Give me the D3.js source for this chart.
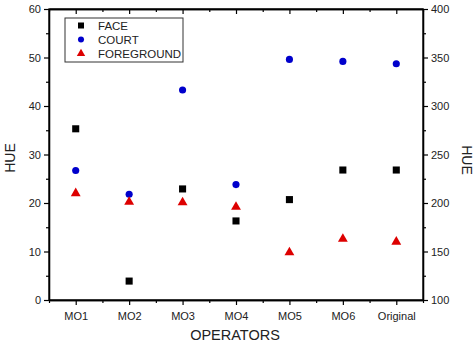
<!DOCTYPE html>
<html><head><meta charset="utf-8">
<script src="https://cdn.jsdelivr.net/npm/d3@7"></script>
<style>body{margin:0;background:#fff}svg{display:block;font-family:"Liberation Sans",Arial,sans-serif}</style>
</head><body><svg id="c" width="474" height="345"></svg>
<script>
const categories = ["MO1","MO2","MO3","MO4","MO5","MO6","Original"];
const face = [35.3, 3.9, 22.9, 16.3, 20.7, 26.8, 26.8];
const court = [26.7, 21.8, 43.3, 23.8, 49.6, 49.2, 48.7];
const foreground = [22.0, 20.2, 20.1, 19.2, 9.8, 12.6, 12.0];
const leftTicks = [0,10,20,30,40,50,60];
const rightTicks = [100,150,200,250,300,350,400];

const svg = d3.select("#c");
const L=49, R=423, T=9, B=300;
const x = d3.scaleLinear().domain([0.5, categories.length+0.5]).range([L,R]);
const y = d3.scaleLinear().domain([0,60]).range([B,T]);
const y2 = d3.scaleLinear().domain([100,400]).range([B,T]);

const g = svg.append("g");
g.append("rect").attr("x",L).attr("y",T).attr("width",R-L).attr("height",B-T).attr("fill","none").attr("stroke","#000").attr("stroke-width",1.3);

const idx = d3.range(1, categories.length+1);
const minorX = d3.range(0.5, categories.length+1, 1);
const bx = svg.append("g").attr("transform",`translate(0,${B})`)
  .call(d3.axisBottom(x).tickValues(idx).tickFormat(i=>categories[i-1]).tickSize(5).tickSizeOuter(0));
svg.append("g").attr("transform",`translate(0,${B})`)
  .call(d3.axisBottom(x).tickValues(minorX).tickFormat("").tickSize(3).tickSizeOuter(0));
svg.append("g").attr("transform",`translate(0,${T})`)
  .call(d3.axisBottom(x).tickValues(idx).tickFormat("").tickSize(5).tickSizeOuter(0));
svg.append("g").attr("transform",`translate(0,${T})`)
  .call(d3.axisBottom(x).tickValues(minorX).tickFormat("").tickSize(3).tickSizeOuter(0));
svg.append("g").attr("transform",`translate(${L},0)`)
  .call(d3.axisLeft(y).tickValues(leftTicks).tickSize(5).tickSizeOuter(0));
svg.append("g").attr("transform",`translate(${L},0)`)
  .call(d3.axisLeft(y).tickValues(d3.range(5,60,10)).tickFormat("").tickSize(3).tickSizeOuter(0));
svg.append("g").attr("transform",`translate(${R},0)`)
  .call(d3.axisRight(y2).tickValues(rightTicks).tickSize(5).tickSizeOuter(0));
svg.append("g").attr("transform",`translate(${R},0)`)
  .call(d3.axisRight(y2).tickValues(d3.range(125,400,50)).tickFormat("").tickSize(3).tickSizeOuter(0));

svg.selectAll(".domain").attr("stroke","#000").attr("stroke-width",1.3);
svg.selectAll(".tick line").attr("stroke","#000").attr("stroke-width",1.2);
svg.selectAll(".tick text").attr("font-size",11).attr("fill","#222").attr("font-family","Liberation Sans, Arial, sans-serif");
bx.selectAll(".tick text").attr("dy","1.05em");

svg.append("text").attr("x",235).attr("y",340).attr("text-anchor","middle").attr("font-size",14.5).attr("fill","#222").text("OPERATORS");
svg.append("text").attr("transform",`translate(14.5,158) rotate(-90)`).attr("text-anchor","middle").attr("font-size",14).attr("fill","#222").text("HUE");
svg.append("text").attr("transform",`translate(462,160) rotate(90)`).attr("text-anchor","middle").attr("font-size",14).attr("fill","#222").text("HUE");

const sq = d3.symbol().type(d3.symbolSquare).size(50);
const ci = d3.symbol().type(d3.symbolCircle).size(40);
const tr = d3.symbol().type(d3.symbolTriangle).size(42);
const series = [
  {name:"FACE", vals:face, sym:sq, color:"#000"},
  {name:"COURT", vals:court, sym:ci, color:"#0000cc"},
  {name:"FOREGROUND", vals:foreground, sym:tr, color:"#dd0000"}
];
series.forEach(s=>{
  svg.append("g").selectAll("path").data(s.vals).join("path")
    .attr("d", s.sym)
    .attr("transform",(d,i)=>`translate(${x(i+1)},${y(d)})`)
    .attr("fill", s.color);
});

const lg = svg.append("g");
lg.append("rect").attr("x",65).attr("y",18).attr("width",118).attr("height",44).attr("fill","#fff").attr("stroke","#333").attr("stroke-width",1);
series.forEach((s,i)=>{
  const yy = 25.5 + i*14;
  lg.append("path").attr("d", s.sym).attr("transform",`translate(81,${yy}) scale(0.85)`).attr("fill",s.color);
  lg.append("text").attr("x",98).attr("y",yy+4).attr("font-size",11.5).attr("fill","#222").text(s.name);
});
</script></body></html>
